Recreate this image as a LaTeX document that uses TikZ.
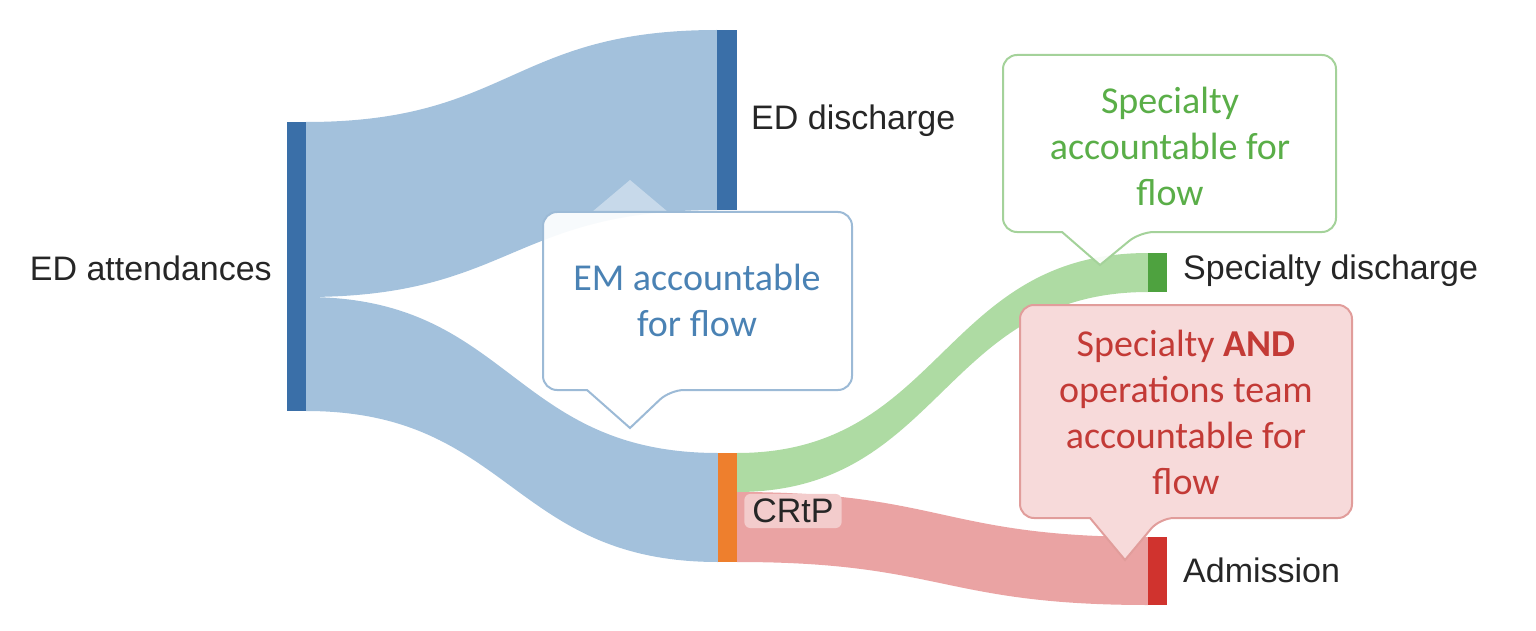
\documentclass[tikz,border=0pt]{standalone}
\usepackage{fontspec}
\setmainfont{Carlito}
\newfontfamily\labfont{Liberation Sans}
\begin{document}
\begin{tikzpicture}[x=1pt,y=-1pt,
  lab/.style={font=\fontsize{34}{38}\selectfont\labfont,text=black!85,anchor=west,inner sep=0pt},
  call/.style={font=\fontsize{38}{46}\selectfont,align=center}]
\definecolor{blueflow}{HTML}{A3C1DC}
\definecolor{bluebar}{HTML}{3A6FA8}
\definecolor{greenflow}{HTML}{AEDBA3}
\definecolor{greenbar}{HTML}{4EA23F}
\definecolor{redflow}{HTML}{EAA3A3}
\definecolor{redbar}{HTML}{D0332E}
\definecolor{orangebar}{HTML}{EE7F2D}
\definecolor{bluetext}{HTML}{4A82B4}
\definecolor{greentext}{HTML}{5AAE48}
\definecolor{redtext}{HTML}{C33A36}
\useasboundingbox (0,0) rectangle (1536,631);
% flows
\fill[blueflow] (306,122) .. controls (511,122) and (511,30) .. (717,30) -- (717,210) .. controls (511,210) and (511,297) .. (306,297) -- cycle;
\fill[blueflow] (306,297) .. controls (511,297) and (511,453) .. (718,453) -- (718,562) .. controls (511,562) and (511,411) .. (306,411) -- cycle;
\fill[greenflow] (737,453) .. controls (942,453) and (942,253) .. (1148,253) -- (1148,292) .. controls (942,292) and (942,492) .. (737,492) -- cycle;
\fill[redflow] (737,492) .. controls (942,492) and (942,537) .. (1148,537) -- (1148,605) .. controls (942,605) and (942,562) .. (737,562) -- cycle;
% bars
\fill[bluebar] (287,122) rectangle (306,411);
\fill[bluebar] (717,30) rectangle (737,210);
\fill[orangebar] (718,453) rectangle (737,562);
\fill[greenbar] (1148,253) rectangle (1167,292);
\fill[redbar] (1148,537) rectangle (1167,605);
% labels
\node[lab,anchor=east] (a) at (272,268) {ED attendances};
\node[lab] (d) at (751,121) {ED discharge};
\node[lab] (s) at (1183,271) {Specialty discharge};
\node[lab] (m) at (1183,570) {Admission};
\node[lab,anchor=center,fill=redflow!55,rounded corners=6pt,inner xsep=8pt,inner ysep=5pt] (c) at (793,511) {CRtP};
% EM callout
\fill[white,opacity=0.4] (592,212) -- (630,180) -- (668,212) -- cycle;
\draw[bluetext!55,line width=2pt,fill=white,fill opacity=0.92,rounded corners=14pt]
  (543,300) -- (543,212) -- (852,212) -- (852,390) -- (670,390) [sharp corners] -- (630,428) -- (587,390) [rounded corners=14pt] -- (543,390) -- cycle;
\node[call,text=bluetext] (em) at (697,300) {EM accountable\\for flow};
% green callout
\draw[greentext!55,line width=2pt,fill=white,fill opacity=0.92,rounded corners=14pt]
  (1003,140) -- (1003,55) -- (1336,55) -- (1336,232) -- (1140,232) [sharp corners] -- (1100,265) -- (1062,232) [rounded corners=14pt] -- (1003,232) -- cycle;
\node[call,text=greentext] (sp) at (1170,146) {Specialty\\accountable for\\flow};
% red callout
\draw[redtext!50,line width=2pt,fill=redflow!40,rounded corners=14pt]
  (1020,410) -- (1020,305) -- (1352,305) -- (1352,518) -- (1160,518) [sharp corners] -- (1125,560) -- (1090,518) [rounded corners=14pt] -- (1020,518) -- cycle;
\node[call,text=redtext] (op) at (1186,412) {Specialty \textbf{AND}\\operations team\\accountable for\\flow};
\end{tikzpicture}
\end{document}
